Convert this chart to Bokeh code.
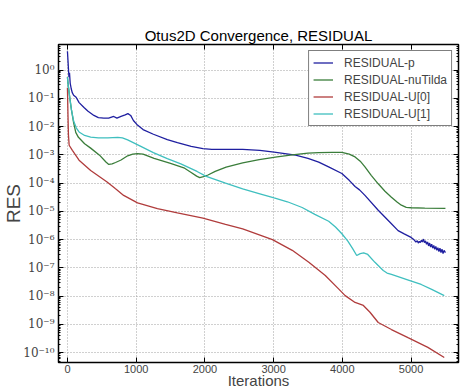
from bokeh.plotting import figure
from bokeh.models import (LogAxis, LinearAxis, FixedTicker, CustomJSTickFormatter,
                          Range1d, Legend, LegendItem)
from bokeh.embed import file_html
from bokeh.resources import INLINE

# ---------------- data ----------------
iter_p = [0, 8, 15, 22, 30, 40, 55, 70, 90, 126, 170, 241, 300, 385, 450, 530, 600, 673,
          720, 780, 840, 880, 920, 960, 1010, 1100, 1251, 1453, 1600, 1800, 1972, 2100,
          2550, 2800, 3007, 3319, 3500, 3656, 3800, 3993, 4100, 4185, 4250, 4329, 4522,
          4700, 4811, 4900,
          5000, 5025, 5050, 5070, 5090, 5105, 5120, 5135, 5150, 5165, 5180, 5195, 5210,
          5225, 5240, 5255, 5270, 5285, 5300, 5315, 5330, 5345, 5360, 5375, 5390, 5405,
          5420, 5435, 5450, 5465, 5480, 5500]
res_p = [4.7, 2.2, 1.1, 0.56, 0.8, 0.35, 0.22, 0.16, 0.13, 0.11, 0.071, 0.048, 0.035,
         0.025, 0.021, 0.020, 0.020, 0.023, 0.020, 0.023, 0.026, 0.029, 0.025, 0.0166,
         0.012, 0.0079, 0.0054, 0.0035, 0.0027, 0.0020, 0.00166, 0.00158, 0.00158,
         0.00145, 0.00126, 0.00098, 0.00076, 0.00056, 0.00038, 0.00022, 0.000126,
         7.6e-5, 5.8e-5, 3.7e-5, 1.1e-5, 4.0e-6, 2.1e-6, 1.6e-6,
         1.2e-6, 1.07e-6, 9.5e-7, 8.3e-7, 9.1e-7, 7.6e-7, 8.7e-7, 7.9e-7, 9.5e-7, 8.3e-7,
         1.05e-6, 7.9e-7, 9.1e-7, 6.9e-7, 8.3e-7, 6.0e-7, 7.6e-7, 5.5e-7, 6.9e-7, 5.0e-7,
         6.3e-7, 4.6e-7, 5.8e-7, 4.2e-7, 5.2e-7, 3.8e-7, 5.0e-7, 3.5e-7, 4.6e-7, 3.2e-7,
         4.2e-7, 3.5e-7]

iter_nu = [0, 15, 35, 58, 90, 121, 160, 250, 338, 467, 560, 602, 650, 700, 780, 876, 950,
           1020, 1100, 1261, 1500, 1694, 1800, 1880, 1925, 1980, 2045, 2150, 2309, 2550,
           2790, 3050, 3271, 3500, 3656, 3850, 3993, 4100, 4185, 4260, 4329, 4420, 4522,
           4620, 4714, 4800, 4859, 4930, 5003, 5200, 5500]
res_nu = [0.56, 0.25, 0.10, 0.040, 0.014, 0.0063, 0.0042, 0.0025, 0.00174, 0.00098,
          0.00056, 0.00046, 0.00048, 0.00054, 0.00066, 0.00093, 0.00107, 0.00112, 0.00107,
          0.00076, 0.0005, 0.00035, 0.00024, 0.000178, 0.000158, 0.00017, 0.000195,
          0.00026, 0.00037, 0.00052, 0.00068, 0.00085, 0.0010, 0.00115, 0.0012, 0.00123,
          0.00123, 0.00107, 0.00085, 0.0006, 0.00038, 0.00019, 9.5e-5, 5.2e-5, 3.2e-5,
          2.1e-5, 1.66e-5, 1.4e-5, 1.35e-5, 1.32e-5, 1.29e-5]

iter_u0 = [0, 8, 15, 25, 72, 169, 338, 577, 700, 818, 1020, 1309, 1600, 1972, 2300, 2550,
           2983, 3271, 3512, 3752, 3945, 4041, 4185, 4306, 4402, 4522, 4714, 4955, 5244, 5483]
res_u0 = [0.24, 0.025, 0.005, 0.0022, 0.00145, 0.00065, 0.00028, 0.00011, 6.3e-5, 3.7e-5,
          2.0e-5, 1.26e-5, 8.9e-6, 5.8e-6, 3.5e-6, 2.4e-6, 1.0e-6, 4.2e-7, 1.58e-7, 5.4e-8,
          1.82e-8, 1.05e-8, 6.0e-9, 4.7e-9, 2.7e-9, 1.17e-9, 6.6e-10, 3.4e-10, 1.55e-10,
          6.8e-11]

iter_u1 = [0, 15, 35, 58, 90, 130, 169, 250, 338, 450, 587, 732, 800, 876, 1068, 1250, 1453,
           1650, 1886, 2020, 2300, 2550, 2800, 3007, 3200, 3415, 3600, 3801, 3900, 3993,
           4080, 4150, 4209, 4260, 4310, 4370, 4474, 4595, 4650, 4714, 4950, 5147, 5300, 5483]
res_u1 = [0.56, 0.24, 0.10, 0.040, 0.0158, 0.0089, 0.0065, 0.0049, 0.0043, 0.0040, 0.0040,
          0.0042, 0.0040, 0.0034, 0.0020, 0.0012, 0.00074, 0.00048, 0.00026, 0.000174,
          1.0e-4, 6.3e-5, 4.2e-5, 3.0e-5, 2.2e-5, 1.38e-5, 7.9e-6, 4.5e-6, 2.8e-6, 1.62e-6,
          8.9e-7, 4.8e-7, 2.75e-7, 3.2e-7, 3.4e-7, 3.0e-7, 1.58e-7, 8.1e-8, 6.6e-8, 5.9e-8,
          3.8e-8, 2.6e-8, 1.74e-8, 1.05e-8]

labels = ["RESIDUAL-p", "RESIDUAL-nuTilda", "RESIDUAL-U[0]", "RESIDUAL-U[1]"]
colors = ["#1f1fa0", "#3a7d3a", "#b03c3c", "#3fbfbf"]
x_ticks = [0, 1000, 2000, 3000, 4000, 5000]
y_exponents = list(range(-10, 1))

# ---------------- figure ----------------
SANS = "Liberation Sans"
p = figure(width=474, height=391, y_axis_type="log",
           x_range=Range1d(-130, 5690), y_range=Range1d(4.5e-11, 8.1),
           output_backend="svg", toolbar_location=None,
           min_border_left=54, min_border_right=16, min_border_top=44,
           min_border_bottom=29, title="Otus2D Convergence, RESIDUAL")
p.title.align = "center"
p.title.text_font = SANS
p.title.text_font_size = "15px"
p.title.text_font_style = "normal"
p.title.text_color = "black"
p.title.standoff = 2
p.background_fill_color = "white"
p.border_fill_color = "white"
p.outline_line_color = "black"
p.outline_line_width = 1.5

yt = FixedTicker(ticks=[10.0 ** e for e in y_exponents],
                 minor_ticks=[m * 10.0 ** e for e in range(-11, 1) for m in range(2, 10)])
xt = FixedTicker(ticks=x_ticks, minor_ticks=[])

sup_fmt = CustomJSTickFormatter(code="""
const sup = {'-':'\\u207b','0':'\\u2070','1':'\\u00b9','2':'\\u00b2','3':'\\u00b3',
             '4':'\\u2074','5':'\\u2075','6':'\\u2076','7':'\\u2077','8':'\\u2078','9':'\\u2079'};
const e = Math.round(Math.log10(tick));
return '10' + String(e).split('').map(c => sup[c]).join('');
""")
blank_fmt = CustomJSTickFormatter(code="return '';")

def style_axis(ax):
    ax.major_tick_in = 5
    ax.major_tick_out = 0
    ax.minor_tick_in = 2
    ax.minor_tick_out = 0
    ax.axis_line_color = None
    ax.major_tick_line_color = "black"
    ax.minor_tick_line_color = "black"

ya = p.yaxis[0]
ya.ticker = yt
ya.formatter = sup_fmt
style_axis(ya)
ya.major_label_text_font = "DejaVu Serif"
ya.major_label_text_font_size = "12px"
ya.major_label_standoff = 4
ya.axis_label = "RES"
ya.axis_label_text_font = SANS
ya.axis_label_text_font_size = "19px"
ya.axis_label_text_font_style = "normal"
ya.axis_label_standoff = -4

xa = p.xaxis[0]
xa.ticker = xt
style_axis(xa)
xa.major_label_text_font = SANS
xa.major_label_text_font_size = "11px"
xa.major_label_standoff = 2
xa.axis_label = "Iterations"
xa.axis_label_text_font = SANS
xa.axis_label_text_font_size = "15px"
xa.axis_label_text_font_style = "normal"
xa.axis_label_standoff = -4

ra = LogAxis(ticker=yt, formatter=blank_fmt)
style_axis(ra)
ra.major_label_standoff = 0
ra.axis_label_standoff = 0
p.add_layout(ra, "right")

ta = LinearAxis(ticker=xt, formatter=blank_fmt)
style_axis(ta)
ta.major_label_standoff = 0
ta.axis_label_standoff = 0
p.add_layout(ta, "above")

p.xgrid.ticker = xt
p.ygrid.ticker = yt
for g in (p.xgrid[0], p.ygrid[0]):
    g.grid_line_color = "#a0a0a0"
    g.grid_line_dash = "1 2"
    g.grid_line_width = 1

series = [(iter_p, res_p), (iter_nu, res_nu), (iter_u0, res_u0), (iter_u1, res_u1)]
items = []
for (xs, ys), lab, col in zip(series, labels, colors):
    r = p.line(xs, ys, line_color=col, line_width=1.3)
    items.append(LegendItem(label=lab, renderers=[r]))

legend = Legend(items=items, location="top_right")
legend.border_line_color = "black"
legend.border_line_width = 1
legend.background_fill_color = "white"
legend.background_fill_alpha = 1
legend.label_text_font = SANS
legend.label_text_font_size = "12px"
legend.glyph_width = 20
legend.glyph_height = 15
legend.label_height = 15
legend.spacing = 2
legend.padding = 4
legend.margin = 6
legend.label_standoff = 11
p.add_layout(legend)

open("out.html", "w").write(file_html(p, INLINE))
